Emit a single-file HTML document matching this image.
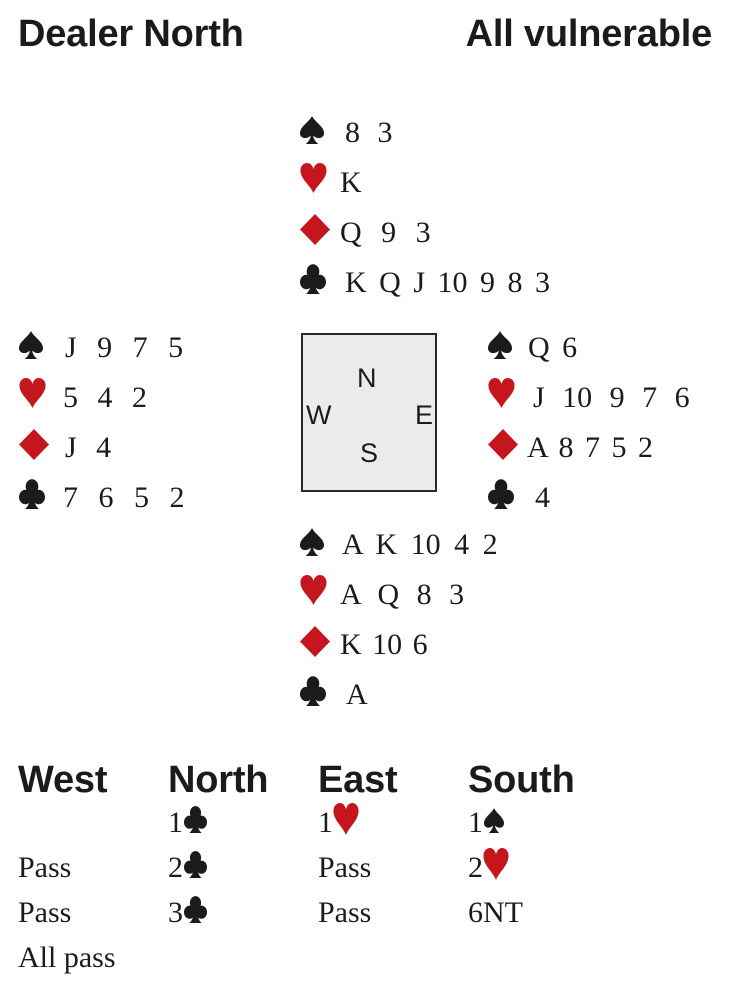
<!DOCTYPE html>
<html><head><meta charset="utf-8"><style>
body{margin:0;width:732px;height:981px;background:#fff;position:relative;overflow:hidden;color:#1b1b1b}
.h{position:absolute;font-family:"Liberation Sans",sans-serif;font-weight:bold;font-size:38px;line-height:38px;white-space:nowrap;letter-spacing:-0.2px}
.t{position:absolute;font-family:"Liberation Serif",serif;font-size:30px;line-height:30px;white-space:nowrap;word-spacing:8px}
svg.i{position:absolute;overflow:visible}
.box{position:absolute;left:301px;top:333px;width:132px;height:155px;background:#ebebeb;border:2px solid #2a2a2a}
.c{position:absolute;font-family:"Liberation Sans",sans-serif;font-size:27px;line-height:27px}
</style></head><body>
<svg width="0" height="0" style="position:absolute">
<defs>
<path id="sp" d="M15 0 C11 7 0 11 0 18.5 C0 24 8 25.5 13.5 21 C13 25 10 28 7 30 L23 30 C20 28 17 25 16.5 21 C22 25.5 30 24 30 18.5 C30 11 19 7 15 0Z" fill="#1b1b1b"/>
<path id="he" d="M15 30 C11 22 0.5 16 0.5 7.5 C0.5 3 4 0 8 0 C11.5 0 14 2.5 15 6 C16 2.5 18.5 0 22 0 C26 0 29.5 3 29.5 7.5 C29.5 16 19 22 15 30Z" fill="#c4161c"/>
<path id="di" d="M15 0 L30 15 L15 30 L0 15Z" fill="#c4161c"/>
<g id="cl" fill="#1b1b1b"><circle cx="15" cy="7.5" r="7.3"/><circle cx="7.3" cy="18" r="7.3"/><circle cx="22.7" cy="18" r="7.3"/><path d="M13.3 14 L16.7 14 C16.7 22 19 27 23 30 L7 30 C11 27 13.3 22 13.3 14Z"/></g>
</defs></svg>

<div class="h" style="left:18px;top:15px">Dealer North</div>
<div class="h" style="right:20px;top:15px">All vulnerable</div>

<!-- North -->
<svg class="i" viewBox="0 0 30 30" preserveAspectRatio="none" style="left:300px;top:116px" width="24" height="28"><use href="#sp"/></svg><div class="t" style="left:345px;top:118px;word-spacing:10px">8 3</div>
<svg class="i" viewBox="0 0 30 30" preserveAspectRatio="none" style="left:300px;top:163px" width="27" height="30"><use href="#he"/></svg><div class="t" style="left:340px;top:168px">K</div>
<svg class="i" viewBox="0 0 30 30" preserveAspectRatio="none" style="left:300px;top:214px" width="30" height="31"><use href="#di"/></svg><div class="t" style="left:340px;top:218px;word-spacing:12px">Q 9 3</div>
<svg class="i" viewBox="0 0 30 30" preserveAspectRatio="none" style="left:300px;top:264px" width="26" height="30"><use href="#cl"/></svg><div class="t" style="left:345px;top:268px;word-spacing:5px">K Q J 10 9 8 3</div>

<!-- West -->
<svg class="i" viewBox="0 0 30 30" preserveAspectRatio="none" style="left:19px;top:331px" width="24" height="28"><use href="#sp"/></svg><div class="t" style="left:65px;top:333px;word-spacing:13px">J 9 7 5</div>
<svg class="i" viewBox="0 0 30 30" preserveAspectRatio="none" style="left:19px;top:378px" width="27" height="30"><use href="#he"/></svg><div class="t" style="left:63px;top:383px;word-spacing:12px">5 4 2</div>
<svg class="i" viewBox="0 0 30 30" preserveAspectRatio="none" style="left:19px;top:429px" width="30" height="31"><use href="#di"/></svg><div class="t" style="left:65px;top:433px;word-spacing:12px">J 4</div>
<svg class="i" viewBox="0 0 30 30" preserveAspectRatio="none" style="left:19px;top:479px" width="26" height="30"><use href="#cl"/></svg><div class="t" style="left:63px;top:483px;word-spacing:13px">7 6 5 2</div>

<!-- Box -->
<div class="box"></div>
<div class="c" style="left:357px;top:365px">N</div>
<div class="c" style="left:306px;top:402px">W</div>
<div class="c" style="left:415px;top:402px">E</div>
<div class="c" style="left:360px;top:440px">S</div>

<!-- East -->
<svg class="i" viewBox="0 0 30 30" preserveAspectRatio="none" style="left:488px;top:331px" width="24" height="28"><use href="#sp"/></svg><div class="t" style="left:528px;top:333px;word-spacing:5px">Q 6</div>
<svg class="i" viewBox="0 0 30 30" preserveAspectRatio="none" style="left:488px;top:378px" width="27" height="30"><use href="#he"/></svg><div class="t" style="left:533px;top:383px;word-spacing:10px">J 10 9 7 6</div>
<svg class="i" viewBox="0 0 30 30" preserveAspectRatio="none" style="left:488px;top:429px" width="30" height="31"><use href="#di"/></svg><div class="t" style="left:527px;top:433px;word-spacing:4px">A 8 7 5 2</div>
<svg class="i" viewBox="0 0 30 30" preserveAspectRatio="none" style="left:488px;top:479px" width="26" height="30"><use href="#cl"/></svg><div class="t" style="left:535px;top:483px">4</div>

<!-- South -->
<svg class="i" viewBox="0 0 30 30" preserveAspectRatio="none" style="left:300px;top:528px" width="24" height="28"><use href="#sp"/></svg><div class="t" style="left:342px;top:530px;word-spacing:6px">A K 10 4 2</div>
<svg class="i" viewBox="0 0 30 30" preserveAspectRatio="none" style="left:300px;top:575px" width="27" height="30"><use href="#he"/></svg><div class="t" style="left:340px;top:580px;word-spacing:10px">A Q 8 3</div>
<svg class="i" viewBox="0 0 30 30" preserveAspectRatio="none" style="left:300px;top:626px" width="30" height="31"><use href="#di"/></svg><div class="t" style="left:340px;top:630px;word-spacing:3px">K 10 6</div>
<svg class="i" viewBox="0 0 30 30" preserveAspectRatio="none" style="left:300px;top:676px" width="26" height="30"><use href="#cl"/></svg><div class="t" style="left:346px;top:680px">A</div>

<!-- Bidding -->
<div class="h" style="left:18px;top:761px">West</div>
<div class="h" style="left:168px;top:761px">North</div>
<div class="h" style="left:318px;top:761px">East</div>
<div class="h" style="left:468px;top:761px">South</div>

<div class="t" style="left:168px;top:808px">1</div><svg class="i" viewBox="0 0 30 30" preserveAspectRatio="none" style="left:184px;top:806px" width="23" height="27"><use href="#cl"/></svg>
<div class="t" style="left:318px;top:808px">1</div><svg class="i" viewBox="0 0 30 30" preserveAspectRatio="none" style="left:333px;top:803px" width="26" height="32"><use href="#he"/></svg>
<div class="t" style="left:468px;top:808px">1</div><svg class="i" viewBox="0 0 30 30" preserveAspectRatio="none" style="left:484px;top:808px" width="20" height="25"><use href="#sp"/></svg>

<div class="t" style="left:18px;top:853px">Pass</div>
<div class="t" style="left:168px;top:853px">2</div><svg class="i" viewBox="0 0 30 30" preserveAspectRatio="none" style="left:184px;top:851px" width="23" height="27"><use href="#cl"/></svg>
<div class="t" style="left:318px;top:853px">Pass</div>
<div class="t" style="left:468px;top:853px">2</div><svg class="i" viewBox="0 0 30 30" preserveAspectRatio="none" style="left:483px;top:848px" width="26" height="32"><use href="#he"/></svg>

<div class="t" style="left:18px;top:898px">Pass</div>
<div class="t" style="left:168px;top:898px">3</div><svg class="i" viewBox="0 0 30 30" preserveAspectRatio="none" style="left:184px;top:896px" width="23" height="27"><use href="#cl"/></svg>
<div class="t" style="left:318px;top:898px">Pass</div>
<div class="t" style="left:468px;top:898px">6NT</div>

<div class="t" style="left:18px;top:943px;word-spacing:0">All pass</div>
</body></html>
